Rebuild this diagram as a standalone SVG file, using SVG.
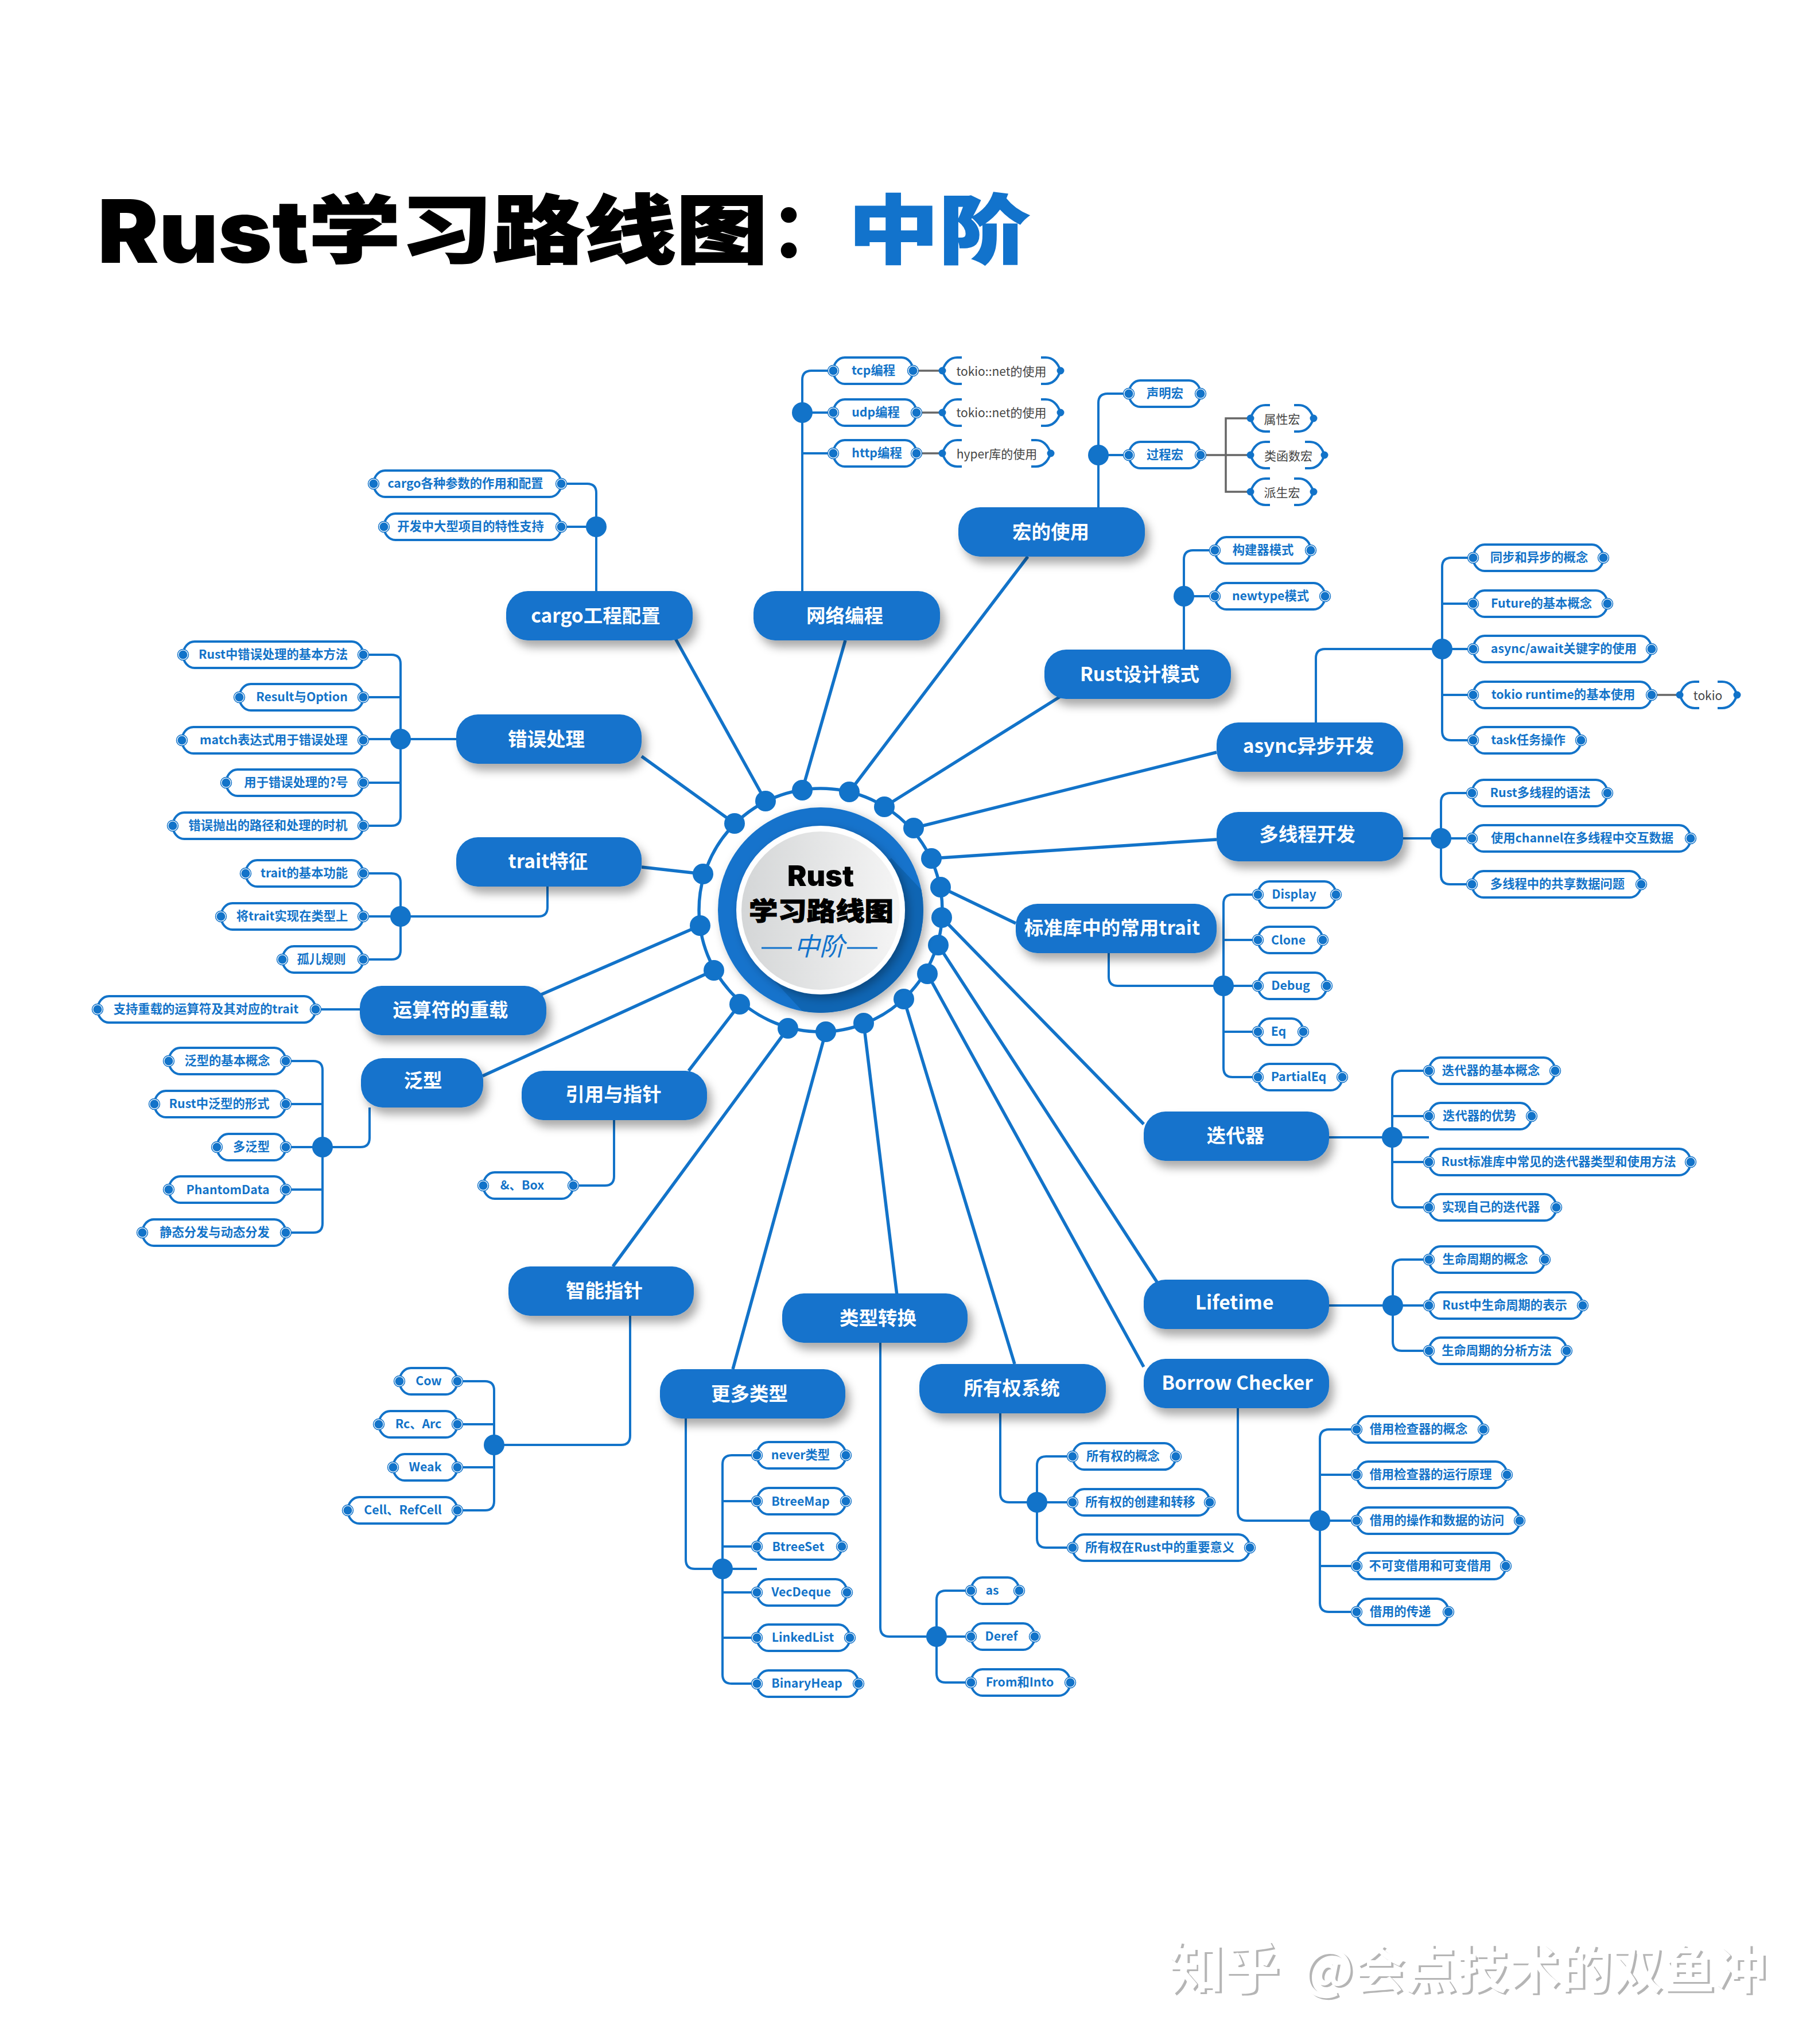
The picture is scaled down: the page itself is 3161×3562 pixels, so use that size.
<svg xmlns="http://www.w3.org/2000/svg" width="3161" height="3562" viewBox="0 0 3161 3562">
<style>
text{font-family:"Noto Sans CJK SC","Noto Sans",sans-serif;text-anchor:middle}
.l{fill:none;stroke:#1273c9;stroke-width:4}
.g{fill:none;stroke:#666;stroke-width:3.5}
.s{fill:none;stroke:#1273c9;stroke-width:5.5}
.dot{fill:#1273c9}
.p{fill:#fff;stroke:#1273c9;stroke-width:4}
.t{fill:#1273c9;font-size:21.3px;font-weight:700}
.b{fill:#444;font-size:21px;font-weight:400}
.m{fill:#1273cc;filter:url(#sh)}
.mt{fill:#fff;font-size:33.5px;font-weight:700}
</style>
<defs>
<filter id="sh" x="-20%" y="-30%" width="150%" height="180%"><feDropShadow dx="8" dy="12" stdDeviation="8" flood-color="#000" flood-opacity=".33"/></filter>
<filter id="sh2" x="-20%" y="-20%" width="150%" height="150%"><feDropShadow dx="6" dy="6" stdDeviation="8" flood-color="#000" flood-opacity=".3"/></filter>
<filter id="cut" x="-5%" y="-10%" width="110%" height="120%"><feOffset in="SourceGraphic" dx="-4" dy="-3" result="o"/><feComposite in="SourceGraphic" in2="o" operator="out"/></filter>
<linearGradient id="gr" x1="0" y1="0" x2="1" y2="0"><stop offset="0" stop-color="#d4d6d7"/><stop offset="1" stop-color="#f5f5f5"/></linearGradient>
<clipPath id="ring"><circle cx="1430" cy="1586" r="179"/></clipPath>
<g id="e"><circle r="9.5" fill="#fff" stroke="#1273c9" stroke-width="1.5"/><circle r="7.5" fill="#1273c9"/></g>
<g id="bl"><path d="M34,-23H26Q8,-23 0,0Q8,23 26,23H34" fill="none" stroke="#1273c9" stroke-width="4"/><circle r="6.5" fill="#1273c9"/></g>
<g id="br"><path d="M-34,-23H-26Q-8,-23 0,0Q-8,23 -26,23H-34" fill="none" stroke="#1273c9" stroke-width="4"/><circle r="6.5" fill="#1273c9"/></g>
</defs>
<rect width="3161" height="3562" fill="#fff"/>

<g id="title">
<text x="354" y="458" font-size="152" font-weight="900" textLength="368" lengthAdjust="spacingAndGlyphs" style="font-family:Inter,'Noto Sans',sans-serif">Rust</text>
<text x="938" y="448" font-size="130" font-weight="900" textLength="800" lengthAdjust="spacingAndGlyphs" stroke="#000" stroke-width="2">学习路线图</text>
<text x="1407" y="448" font-size="130" font-weight="900">：</text>
<text x="1636" y="448" font-size="130" font-weight="900" fill="#1273cc" textLength="316" lengthAdjust="spacingAndGlyphs" stroke="#1273cc" stroke-width="2">中阶</text>
</g>

<g id="connectors">
<g class="spokes">
<path class="s" d="M1225,1523L1118,1511M1280,1435L1118,1318M1334,1396L1177,1113M1398,1377L1473,1116M1480,1380L1791,970M1541,1406L1852,1211M1592,1443L2120,1311M1623,1496L2120,1463M1639,1546L1770,1609M1641,1599L1993,1959M1635,1647L2016,2234M1616,1697L1993,2382M1575,1741L1768,2377M1505,1783L1563,2257M1439,1798L1277,2386M1373,1792L1068,2207M1289,1750L1200,1866M1244,1691L841,1875M1220,1613L941,1734"/>
<circle class="s" cx="1430" cy="1586" r="212"/>
</g>
<path class="l" d="M1452,646H1414Q1398,646 1398,662V1032M1398,719H1452M1398,790H1452"/>
<path class="g" d="M1591,646H1642M1597,719H1642M1597,790H1642"/>
<path class="l" d="M1967,686H1930Q1914,686 1914,702V884M1914,793H1967"/>
<path class="g" d="M2092,793H2179M2179,729H2136V857H2179"/>
<path class="l" d="M2117,959H2079Q2063,959 2063,975V1132M2063,1039H2117"/>
<path class="l" d="M2293,1259V1147Q2293,1131 2309,1131H2567M2567,972H2529Q2513,972 2513,988V1274Q2513,1290 2529,1290H2567M2513,1052H2567M2513,1211H2567"/>
<path class="g" d="M2878,1211H2927"/>
<path class="l" d="M2445,1461H2565M2565,1382H2527Q2511,1382 2511,1398V1525Q2511,1541 2527,1541H2565"/>
<path class="l" d="M1932,1661V1702Q1932,1718 1948,1718H2192M2192,1559H2148Q2132,1559 2132,1575V1861Q2132,1877 2148,1877H2192M2132,1638H2192M2132,1798H2192"/>
<path class="l" d="M2316,1982H2490M2490,1866H2442Q2426,1866 2426,1882V2088Q2426,2104 2442,2104H2490M2426,1945H2490M2426,2025H2490"/>
<path class="l" d="M2316,2275H2490M2490,2195H2443Q2427,2195 2427,2211V2338Q2427,2354 2443,2354H2490"/>
<path class="l" d="M2157,2454V2634Q2157,2650 2173,2650H2364M2364,2491H2316Q2300,2491 2300,2507V2793Q2300,2809 2316,2809H2364M2300,2570H2364M2300,2729H2364"/>
<path class="l" d="M1743,2463V2602Q1743,2618 1759,2618H1869M1869,2538H1823Q1807,2538 1807,2554V2681Q1807,2697 1823,2697H1869"/>
<path class="l" d="M1534,2340V2836Q1534,2852 1550,2852H1692M1692,2772H1648Q1632,2772 1632,2788V2916Q1632,2932 1648,2932H1692"/>
<path class="l" d="M1195,2472V2718Q1195,2734 1211,2734H1319M1319,2536H1275Q1259,2536 1259,2552V2918Q1259,2934 1275,2934H1319M1259,2616H1319M1259,2695H1319M1259,2775H1319M1259,2854H1319"/>
<path class="l" d="M1098,2293V2502Q1098,2518 1082,2518H861M797,2407H845Q861,2407 861,2423V2616Q861,2632 845,2632H797M861,2482H797M861,2557H797"/>
<path class="l" d="M1070,1952V2050Q1070,2066 1054,2066H999"/>
<path class="l" d="M644,1930V1983Q644,1999 628,1999H498M498,1849H546Q562,1849 562,1865V2132Q562,2148 546,2148H498M562,1924H498M562,2073H498"/>
<path class="l" d="M550,1759H627"/>
<path class="l" d="M954,1545V1581Q954,1597 938,1597H633M633,1522H682Q698,1522 698,1538V1656Q698,1672 682,1672H633"/>
<path class="l" d="M795,1288H633M633,1141H682Q698,1141 698,1157V1423Q698,1439 682,1439H633M698,1215H633M698,1364H633"/>
<path class="l" d="M971,843H1023Q1039,843 1039,859V1032M1039,918H971"/>
<g class="dot">
<circle cx="1398" cy="719" r="18"/><circle cx="1914" cy="793" r="18"/><circle cx="2063" cy="1039" r="18"/><circle cx="2513" cy="1131" r="18"/><circle cx="2511" cy="1461" r="18"/><circle cx="2132" cy="1718" r="18"/><circle cx="2426" cy="1982" r="18"/><circle cx="2427" cy="2275" r="18"/><circle cx="2300" cy="2650" r="18"/><circle cx="1807" cy="2618" r="18"/><circle cx="1632" cy="2852" r="18"/><circle cx="1259" cy="2734" r="18"/><circle cx="861" cy="2518" r="18"/><circle cx="562" cy="1999" r="18"/><circle cx="698" cy="1597" r="18"/><circle cx="698" cy="1288" r="18"/><circle cx="1039" cy="918" r="18"/>
</g>
<g class="dot">
<circle cx="1225" cy="1523" r="18"/><circle cx="1280" cy="1435" r="18"/><circle cx="1334" cy="1396" r="18"/><circle cx="1398" cy="1377" r="18"/><circle cx="1480" cy="1380" r="18"/><circle cx="1541" cy="1406" r="18"/><circle cx="1592" cy="1443" r="18"/><circle cx="1623" cy="1496" r="18"/><circle cx="1639" cy="1546" r="18"/><circle cx="1641" cy="1599" r="18"/><circle cx="1635" cy="1647" r="18"/><circle cx="1616" cy="1697" r="18"/><circle cx="1575" cy="1741" r="18"/><circle cx="1505" cy="1783" r="18"/><circle cx="1439" cy="1798" r="18"/><circle cx="1373" cy="1792" r="18"/><circle cx="1289" cy="1750" r="18"/><circle cx="1244" cy="1691" r="18"/><circle cx="1220" cy="1613" r="18"/>
</g>
</g>

<g id="center">
<circle cx="1430" cy="1586" r="179" fill="#1273cc" filter="url(#sh2)"/>
<polygon points="1553,1495 1690,1640 1480,1850 1350,1710" fill="#0f65b3" clip-path="url(#ring)"/>
<circle cx="1430" cy="1586" r="147" fill="#fff" filter="url(#sh2)"/>
<circle cx="1430" cy="1587" r="138" fill="url(#gr)"/>
<text x="1430" y="1544" font-size="50" font-weight="900" textLength="116" lengthAdjust="spacingAndGlyphs" style="font-family:Inter,'Noto Sans',sans-serif">Rust</text>
<text x="1431" y="1604" font-size="44" font-weight="900" textLength="252" lengthAdjust="spacingAndGlyphs" stroke="#000" stroke-width="1">学习路线图</text>
<text x="1428" y="1665" font-size="44" font-weight="400" font-style="italic" fill="#1273cc" textLength="88" lengthAdjust="spacingAndGlyphs">中阶</text>
<path d="M1327,1652H1380M1476,1652H1529" stroke="#1273cc" stroke-width="3" fill="none"/>
</g>

<g id="main-nodes">
<g id="m-cargo"><rect class="m" x="882" y="1030" width="325" height="86" rx="38"/><text class="mt" x="1038" y="1085">cargo工程配置</text></g>
<g id="m-net"><rect class="m" x="1313" y="1030" width="325" height="86" rx="38"/><text class="mt" x="1472" y="1085">网络编程</text></g>
<g id="m-macro"><rect class="m" x="1670" y="884" width="325" height="86" rx="38"/><text class="mt" x="1831" y="939">宏的使用</text></g>
<g id="m-design"><rect class="m" x="1820" y="1132" width="325" height="86" rx="38"/><text class="mt" x="1986" y="1187">Rust设计模式</text></g>
<g id="m-async"><rect class="m" x="2120" y="1259" width="325" height="86" rx="38"/><text class="mt" x="2280" y="1312">async异步开发</text></g>
<g id="m-thread"><rect class="m" x="2120" y="1415" width="325" height="86" rx="38"/><text class="mt" x="2278" y="1466">多线程开发</text></g>
<g id="m-std"><rect class="m" x="1770" y="1575" width="350" height="86" rx="38"/><text class="mt" x="1938" y="1629">标准库中的常用trait</text></g>
<g id="m-iter"><rect class="m" x="1993" y="1937" width="323" height="86" rx="38"/><text class="mt" x="2153" y="1991">迭代器</text></g>
<g id="m-life"><rect class="m" x="1993" y="2230" width="323" height="86" rx="38"/><text class="mt" x="2151" y="2282">Lifetime</text></g>
<g id="m-borrow"><rect class="m" x="1993" y="2368" width="323" height="86" rx="38"/><text class="mt" x="2156" y="2422">Borrow Checker</text></g>
<g id="m-own"><rect class="m" x="1602" y="2377" width="325" height="86" rx="38"/><text class="mt" x="1763" y="2431">所有权系统</text></g>
<g id="m-cast"><rect class="m" x="1363" y="2254" width="323" height="86" rx="38"/><text class="mt" x="1530" y="2309">类型转换</text></g>
<g id="m-types"><rect class="m" x="1150" y="2386" width="323" height="86" rx="38"/><text class="mt" x="1306" y="2441">更多类型</text></g>
<g id="m-smart"><rect class="m" x="886" y="2207" width="323" height="86" rx="38"/><text class="mt" x="1053" y="2261">智能指针</text></g>
<g id="m-ref"><rect class="m" x="909" y="1866" width="323" height="86" rx="38"/><text class="mt" x="1069" y="1919">引用与指针</text></g>
<g id="m-generic"><rect class="m" x="629" y="1844" width="213" height="86" rx="38"/><text class="mt" x="737" y="1895">泛型</text></g>
<g id="m-op"><rect class="m" x="627" y="1718" width="325" height="86" rx="38"/><text class="mt" x="785" y="1772">运算符的重载</text></g>
<g id="m-trait"><rect class="m" x="795" y="1459" width="323" height="86" rx="38"/><text class="mt" x="955" y="1513">trait特征</text></g>
<g id="m-err"><rect class="m" x="795" y="1245" width="323" height="86" rx="38"/><text class="mt" x="952" y="1300">错误处理</text></g>
</g>

<g id="leaves">
<g id="p1"><rect class="p" x="1452" y="623" width="139" height="46" rx="20" ry="23"/><use href="#e" x="1452" y="646"/><use href="#e" x="1591" y="646"/><text class="t" x="1522" y="653">tcp编程</text></g>
<g id="p2"><rect class="p" x="1452" y="696" width="145" height="46" rx="20" ry="23"/><use href="#e" x="1452" y="719"/><use href="#e" x="1597" y="719"/><text class="t" x="1526" y="726">udp编程</text></g>
<g id="p3"><rect class="p" x="1452" y="767" width="145" height="46" rx="20" ry="23"/><use href="#e" x="1452" y="790"/><use href="#e" x="1597" y="790"/><text class="t" x="1528" y="797">http编程</text></g>
<g id="q1"><use href="#bl" x="1642" y="646"/><use href="#br" x="1848" y="646"/><text class="b" x="1745" y="655">tokio::net的使用</text></g>
<g id="q2"><use href="#bl" x="1642" y="719"/><use href="#br" x="1848" y="719"/><text class="b" x="1745" y="727">tokio::net的使用</text></g>
<g id="q3"><use href="#bl" x="1642" y="790"/><use href="#br" x="1831" y="790"/><text class="b" x="1737" y="799">hyper库的使用</text></g>

<g id="p4"><rect class="p" x="1967" y="663" width="125" height="46" rx="20" ry="23"/><use href="#e" x="1967" y="686"/><use href="#e" x="2092" y="686"/><text class="t" x="2030" y="693">声明宏</text></g>
<g id="p5"><rect class="p" x="1967" y="770" width="125" height="46" rx="20" ry="23"/><use href="#e" x="1967" y="793"/><use href="#e" x="2092" y="793"/><text class="t" x="2030" y="800">过程宏</text></g>
<g id="q4"><use href="#bl" x="2179" y="729"/><use href="#br" x="2289" y="729"/><text class="b" x="2234" y="738">属性宏</text></g>
<g id="q5"><use href="#bl" x="2179" y="793"/><use href="#br" x="2308" y="793"/><text class="b" x="2245" y="802">类函数宏</text></g>
<g id="q6"><use href="#bl" x="2179" y="857"/><use href="#br" x="2289" y="857"/><text class="b" x="2234" y="866">派生宏</text></g>

<g id="p6"><rect class="p" x="2117" y="936" width="167" height="46" rx="20" ry="23"/><use href="#e" x="2117" y="959"/><use href="#e" x="2284" y="959"/><text class="t" x="2201" y="966">构建器模式</text></g>
<g id="p7"><rect class="p" x="2117" y="1016" width="192" height="46" rx="20" ry="23"/><use href="#e" x="2117" y="1039"/><use href="#e" x="2309" y="1039"/><text class="t" x="2214" y="1046">newtype模式</text></g>

<g id="p8"><rect class="p" x="2567" y="949" width="227" height="46" rx="20" ry="23"/><use href="#e" x="2567" y="972"/><use href="#e" x="2794" y="972"/><text class="t" x="2682" y="979">同步和异步的概念</text></g>
<g id="p9"><rect class="p" x="2567" y="1029" width="234" height="46" rx="20" ry="23"/><use href="#e" x="2567" y="1052"/><use href="#e" x="2801" y="1052"/><text class="t" x="2686" y="1059">Future的基本概念</text></g>
<g id="p10"><rect class="p" x="2567" y="1108" width="311" height="46" rx="20" ry="23"/><use href="#e" x="2567" y="1131"/><use href="#e" x="2878" y="1131"/><text class="t" x="2725" y="1138">async/await关键字的使用</text></g>
<g id="p11"><rect class="p" x="2567" y="1188" width="311" height="46" rx="20" ry="23"/><use href="#e" x="2567" y="1211"/><use href="#e" x="2878" y="1211"/><text class="t" x="2724" y="1218">tokio runtime的基本使用</text></g>
<g id="p12"><rect class="p" x="2567" y="1267" width="188" height="46" rx="20" ry="23"/><use href="#e" x="2567" y="1290"/><use href="#e" x="2755" y="1290"/><text class="t" x="2663" y="1297">task任务操作</text></g>
<g id="q7"><use href="#bl" x="2927" y="1211"/><use href="#br" x="3027" y="1211"/><text class="b" x="2976" y="1220">tokio</text></g>

<g id="p13"><rect class="p" x="2565" y="1359" width="236" height="46" rx="20" ry="23"/><use href="#e" x="2565" y="1382"/><use href="#e" x="2801" y="1382"/><text class="t" x="2684" y="1389">Rust多线程的语法</text></g>
<g id="p14"><rect class="p" x="2565" y="1438" width="381" height="46" rx="20" ry="23"/><use href="#e" x="2565" y="1461"/><use href="#e" x="2946" y="1461"/><text class="t" x="2757" y="1468">使用channel在多线程中交互数据</text></g>
<g id="p15"><rect class="p" x="2565" y="1518" width="295" height="46" rx="20" ry="23"/><use href="#e" x="2565" y="1541"/><use href="#e" x="2860" y="1541"/><text class="t" x="2714" y="1548">多线程中的共享数据问题</text></g>

<g id="p16"><rect class="p" x="2192" y="1536" width="136" height="46" rx="20" ry="23"/><use href="#e" x="2192" y="1559"/><use href="#e" x="2328" y="1559"/><text class="t" x="2255" y="1566">Display</text></g>
<g id="p17"><rect class="p" x="2192" y="1615" width="113" height="46" rx="20" ry="23"/><use href="#e" x="2192" y="1638"/><use href="#e" x="2305" y="1638"/><text class="t" x="2245" y="1646">Clone</text></g>
<g id="p18"><rect class="p" x="2192" y="1695" width="120" height="46" rx="20" ry="23"/><use href="#e" x="2192" y="1718"/><use href="#e" x="2312" y="1718"/><text class="t" x="2249" y="1725">Debug</text></g>
<g id="p19"><rect class="p" x="2192" y="1775" width="79" height="46" rx="20" ry="23"/><use href="#e" x="2192" y="1798"/><use href="#e" x="2271" y="1798"/><text class="t" x="2228" y="1805">Eq</text></g>
<g id="p20"><rect class="p" x="2192" y="1854" width="147" height="46" rx="20" ry="23"/><use href="#e" x="2192" y="1877"/><use href="#e" x="2339" y="1877"/><text class="t" x="2263" y="1884">PartialEq</text></g>

<g id="p21"><rect class="p" x="2490" y="1843" width="220" height="46" rx="20" ry="23"/><use href="#e" x="2490" y="1866"/><use href="#e" x="2710" y="1866"/><text class="t" x="2598" y="1873">迭代器的基本概念</text></g>
<g id="p22"><rect class="p" x="2490" y="1922" width="179" height="46" rx="20" ry="23"/><use href="#e" x="2490" y="1945"/><use href="#e" x="2669" y="1945"/><text class="t" x="2578" y="1952">迭代器的优势</text></g>
<g id="p23"><rect class="p" x="2490" y="2002" width="456" height="46" rx="20" ry="23"/><use href="#e" x="2490" y="2025"/><use href="#e" x="2946" y="2025"/><text class="t" x="2716" y="2032">Rust标准库中常见的迭代器类型和使用方法</text></g>
<g id="p24"><rect class="p" x="2490" y="2081" width="222" height="46" rx="20" ry="23"/><use href="#e" x="2490" y="2104"/><use href="#e" x="2712" y="2104"/><text class="t" x="2598" y="2111">实现自己的迭代器</text></g>

<g id="p25"><rect class="p" x="2490" y="2172" width="202" height="46" rx="20" ry="23"/><use href="#e" x="2490" y="2195"/><use href="#e" x="2692" y="2195"/><text class="t" x="2588" y="2202">生命周期的概念</text></g>
<g id="p26"><rect class="p" x="2490" y="2252" width="268" height="46" rx="20" ry="23"/><use href="#e" x="2490" y="2275"/><use href="#e" x="2758" y="2275"/><text class="t" x="2622" y="2282">Rust中生命周期的表示</text></g>
<g id="p27"><rect class="p" x="2490" y="2331" width="240" height="46" rx="20" ry="23"/><use href="#e" x="2490" y="2354"/><use href="#e" x="2730" y="2354"/><text class="t" x="2608" y="2361">生命周期的分析方法</text></g>

<g id="p28"><rect class="p" x="2364" y="2468" width="221" height="46" rx="20" ry="23"/><use href="#e" x="2364" y="2491"/><use href="#e" x="2585" y="2491"/><text class="t" x="2472" y="2498">借用检查器的概念</text></g>
<g id="p29"><rect class="p" x="2364" y="2547" width="262" height="46" rx="20" ry="23"/><use href="#e" x="2364" y="2570"/><use href="#e" x="2626" y="2570"/><text class="t" x="2493" y="2577">借用检查器的运行原理</text></g>
<g id="p30"><rect class="p" x="2364" y="2627" width="284" height="46" rx="20" ry="23"/><use href="#e" x="2364" y="2650"/><use href="#e" x="2648" y="2650"/><text class="t" x="2504" y="2657">借用的操作和数据的访问</text></g>
<g id="p31"><rect class="p" x="2364" y="2706" width="260" height="46" rx="20" ry="23"/><use href="#e" x="2364" y="2729"/><use href="#e" x="2624" y="2729"/><text class="t" x="2492" y="2736">不可变借用和可变借用</text></g>
<g id="p32"><rect class="p" x="2364" y="2786" width="160" height="46" rx="20" ry="23"/><use href="#e" x="2364" y="2809"/><use href="#e" x="2524" y="2809"/><text class="t" x="2440" y="2816">借用的传递</text></g>

<g id="p33"><rect class="p" x="1869" y="2515" width="180" height="46" rx="20" ry="23"/><use href="#e" x="1869" y="2538"/><use href="#e" x="2049" y="2538"/><text class="t" x="1957" y="2545">所有权的概念</text></g>
<g id="p34"><rect class="p" x="1869" y="2595" width="239" height="46" rx="20" ry="23"/><use href="#e" x="1869" y="2618"/><use href="#e" x="2108" y="2618"/><text class="t" x="1987" y="2625">所有权的创建和转移</text></g>
<g id="p35"><rect class="p" x="1869" y="2674" width="309" height="46" rx="20" ry="23"/><use href="#e" x="1869" y="2697"/><use href="#e" x="2178" y="2697"/><text class="t" x="2021" y="2704">所有权在Rust中的重要意义</text></g>

<g id="p36"><rect class="p" x="1692" y="2749" width="84" height="46" rx="20" ry="23"/><use href="#e" x="1692" y="2772"/><use href="#e" x="1776" y="2772"/><text class="t" x="1729" y="2779">as</text></g>
<g id="p37"><rect class="p" x="1692" y="2829" width="111" height="46" rx="20" ry="23"/><use href="#e" x="1692" y="2852"/><use href="#e" x="1803" y="2852"/><text class="t" x="1745" y="2859">Deref</text></g>
<g id="p38"><rect class="p" x="1692" y="2909" width="173" height="46" rx="20" ry="23"/><use href="#e" x="1692" y="2932"/><use href="#e" x="1865" y="2932"/><text class="t" x="1777" y="2939">From和Into</text></g>

<g id="p39"><rect class="p" x="1319" y="2513" width="155" height="46" rx="20" ry="23"/><use href="#e" x="1319" y="2536"/><use href="#e" x="1474" y="2536"/><text class="t" x="1395" y="2543">never类型</text></g>
<g id="p40"><rect class="p" x="1319" y="2593" width="155" height="46" rx="20" ry="23"/><use href="#e" x="1319" y="2616"/><use href="#e" x="1474" y="2616"/><text class="t" x="1395" y="2624">BtreeMap</text></g>
<g id="p41"><rect class="p" x="1319" y="2672" width="148" height="46" rx="20" ry="23"/><use href="#e" x="1319" y="2695"/><use href="#e" x="1467" y="2695"/><text class="t" x="1391" y="2703">BtreeSet</text></g>
<g id="p42"><rect class="p" x="1319" y="2752" width="157" height="46" rx="20" ry="23"/><use href="#e" x="1319" y="2775"/><use href="#e" x="1476" y="2775"/><text class="t" x="1396" y="2782">VecDeque</text></g>
<g id="p43"><rect class="p" x="1319" y="2831" width="162" height="46" rx="20" ry="23"/><use href="#e" x="1319" y="2854"/><use href="#e" x="1481" y="2854"/><text class="t" x="1399" y="2861">LinkedList</text></g>
<g id="p44"><rect class="p" x="1319" y="2911" width="177" height="46" rx="20" ry="23"/><use href="#e" x="1319" y="2934"/><use href="#e" x="1496" y="2934"/><text class="t" x="1406" y="2941">BinaryHeap</text></g>

<g id="p45"><rect class="p" x="696" y="2384" width="101" height="46" rx="20" ry="23"/><use href="#e" x="696" y="2407"/><use href="#e" x="797" y="2407"/><text class="t" x="747" y="2414">Cow</text></g>
<g id="p46"><rect class="p" x="660" y="2459" width="137" height="46" rx="20" ry="23"/><use href="#e" x="660" y="2482"/><use href="#e" x="797" y="2482"/><text class="t" x="729" y="2489">Rc、Arc</text></g>
<g id="p47"><rect class="p" x="685" y="2534" width="112" height="46" rx="20" ry="23"/><use href="#e" x="685" y="2557"/><use href="#e" x="797" y="2557"/><text class="t" x="741" y="2564">Weak</text></g>
<g id="p48"><rect class="p" x="606" y="2609" width="191" height="46" rx="20" ry="23"/><use href="#e" x="606" y="2632"/><use href="#e" x="797" y="2632"/><text class="t" x="702" y="2639">Cell、RefCell</text></g>

<g id="p49"><rect class="p" x="842" y="2043" width="157" height="46" rx="20" ry="23"/><use href="#e" x="842" y="2066"/><use href="#e" x="999" y="2066"/><text class="t" x="910" y="2073">&amp;、Box</text></g>

<g id="p50"><rect class="p" x="294" y="1826" width="204" height="46" rx="20" ry="23"/><use href="#e" x="294" y="1849"/><use href="#e" x="498" y="1849"/><text class="t" x="396" y="1856">泛型的基本概念</text></g>
<g id="p51"><rect class="p" x="269" y="1901" width="229" height="46" rx="20" ry="23"/><use href="#e" x="269" y="1924"/><use href="#e" x="498" y="1924"/><text class="t" x="382" y="1931">Rust中泛型的形式</text></g>
<g id="p52"><rect class="p" x="378" y="1976" width="120" height="46" rx="20" ry="23"/><use href="#e" x="378" y="1999"/><use href="#e" x="498" y="1999"/><text class="t" x="438" y="2006">多泛型</text></g>
<g id="p53"><rect class="p" x="294" y="2050" width="204" height="46" rx="20" ry="23"/><use href="#e" x="294" y="2073"/><use href="#e" x="498" y="2073"/><text class="t" x="397" y="2081">PhantomData</text></g>
<g id="p54"><rect class="p" x="248" y="2125" width="250" height="46" rx="20" ry="23"/><use href="#e" x="248" y="2148"/><use href="#e" x="498" y="2148"/><text class="t" x="374" y="2155">静态分发与动态分发</text></g>

<g id="p55"><rect class="p" x="170" y="1736" width="380" height="46" rx="20" ry="23"/><use href="#e" x="170" y="1759"/><use href="#e" x="550" y="1759"/><text class="t" x="359" y="1766">支持重载的运算符及其对应的trait</text></g>

<g id="p56"><rect class="p" x="428" y="1499" width="205" height="46" rx="20" ry="23"/><use href="#e" x="428" y="1522"/><use href="#e" x="633" y="1522"/><text class="t" x="530" y="1529">trait的基本功能</text></g>
<g id="p57"><rect class="p" x="385" y="1574" width="248" height="46" rx="20" ry="23"/><use href="#e" x="385" y="1597"/><use href="#e" x="633" y="1597"/><text class="t" x="509" y="1604">将trait实现在类型上</text></g>
<g id="p58"><rect class="p" x="492" y="1649" width="141" height="46" rx="20" ry="23"/><use href="#e" x="492" y="1672"/><use href="#e" x="633" y="1672"/><text class="t" x="560" y="1679">孤儿规则</text></g>

<g id="p59"><rect class="p" x="319" y="1118" width="314" height="46" rx="20" ry="23"/><use href="#e" x="319" y="1141"/><use href="#e" x="633" y="1141"/><text class="t" x="476" y="1148">Rust中错误处理的基本方法</text></g>
<g id="p60"><rect class="p" x="417" y="1192" width="216" height="46" rx="20" ry="23"/><use href="#e" x="417" y="1215"/><use href="#e" x="633" y="1215"/><text class="t" x="526" y="1222">Result与Option</text></g>
<g id="p61"><rect class="p" x="317" y="1267" width="316" height="46" rx="20" ry="23"/><use href="#e" x="317" y="1290"/><use href="#e" x="633" y="1290"/><text class="t" x="477" y="1297">match表达式用于错误处理</text></g>
<g id="p62"><rect class="p" x="394" y="1341" width="239" height="46" rx="20" ry="23"/><use href="#e" x="394" y="1364"/><use href="#e" x="633" y="1364"/><text class="t" x="516" y="1371">用于错误处理的?号</text></g>
<g id="p63"><rect class="p" x="301" y="1416" width="332" height="46" rx="20" ry="23"/><use href="#e" x="301" y="1439"/><use href="#e" x="633" y="1439"/><text class="t" x="467" y="1446">错误抛出的路径和处理的时机</text></g>

<g id="p64"><rect class="p" x="651" y="820" width="327" height="46" rx="20" ry="23"/><use href="#e" x="651" y="843"/><use href="#e" x="978" y="843"/><text class="t" x="811" y="850">cargo各种参数的作用和配置</text></g>
<g id="p65"><rect class="p" x="669" y="895" width="309" height="46" rx="20" ry="23"/><use href="#e" x="669" y="918"/><use href="#e" x="978" y="918"/><text class="t" x="820" y="925">开发中大型项目的特性支持</text></g>
</g>

<text id="watermark" y="3468" font-weight="700" fill="#b5b5b5" filter="url(#cut)" style="text-anchor:start"><tspan x="2040" font-size="97">知乎 </tspan><tspan x="2272" font-size="90">@</tspan><tspan x="2362" font-size="90">会点技术的双鱼冲</tspan></text>
</svg>
